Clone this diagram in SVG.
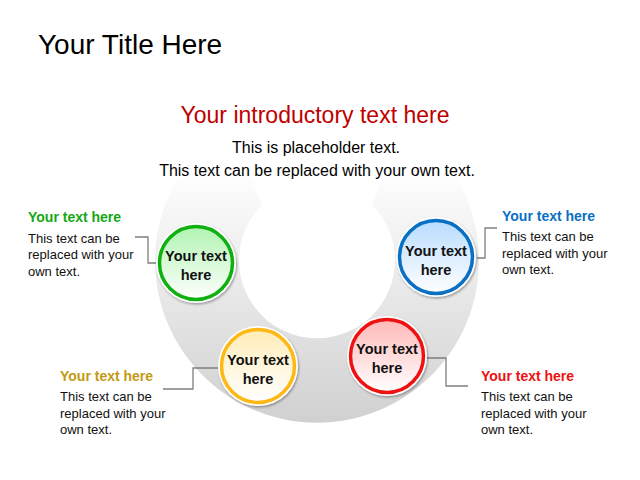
<svg xmlns="http://www.w3.org/2000/svg" width="640" height="480" viewBox="0 0 640 480">
<defs>
<linearGradient id="ringGrad" gradientUnits="userSpaceOnUse" x1="0" y1="170" x2="0" y2="423">
<stop offset="0" stop-color="#ffffff"/>
<stop offset="0.15" stop-color="#f7f7f7"/>
<stop offset="0.4" stop-color="#ececec"/>
<stop offset="1" stop-color="#d0d0d0"/>
</linearGradient>
<linearGradient id="gGreen" x1="0" y1="0" x2="0" y2="1"><stop offset="0" stop-color="#b0f4b0"/><stop offset="1" stop-color="#ffffff"/></linearGradient>
<linearGradient id="gBlue" x1="0" y1="0" x2="0" y2="1"><stop offset="0" stop-color="#b8dcff"/><stop offset="1" stop-color="#ffffff"/></linearGradient>
<linearGradient id="gYellow" x1="0" y1="0" x2="0" y2="1"><stop offset="0" stop-color="#ffecb8"/><stop offset="1" stop-color="#ffffff"/></linearGradient>
<linearGradient id="gRed" x1="0" y1="0" x2="0" y2="1"><stop offset="0" stop-color="#ffb8b8"/><stop offset="1" stop-color="#ffffff"/></linearGradient>
<filter id="sh" x="-20%" y="-20%" width="140%" height="140%">
<feDropShadow dx="1" dy="1.5" stdDeviation="1.2" flood-color="#000000" flood-opacity="0.35"/>
</filter>
</defs>
<style>
text{font-family:"Liberation Sans",Arial,sans-serif}
.title{font-size:28px;fill:#000}
.intro{font-size:23px;fill:#c00000;text-anchor:middle}
.sub{font-size:16px;fill:#000;text-anchor:middle}
.head{font-size:14px;font-weight:bold}
.body{font-size:13px;fill:#111}
.ctext{font-size:14.5px;font-weight:bold;fill:#111;text-anchor:middle}
.rim{fill:#ffffff;filter:url(#sh)}
.ring{stroke-width:3.5}
.conn{fill:none;stroke:#7f7f7f;stroke-width:1.3}
</style>
<rect width="640" height="480" fill="#ffffff"/>
<path id="arc" d="M230,124 A162,162 0 1 0 404,124 L372,205 A78,78 0 1 1 262,205 Z" fill="url(#ringGrad)"/>
<text class="title" x="38" y="54">Your Title Here</text>
<text class="intro" x="315" y="123">Your introductory text here</text>
<text class="sub" x="316" y="153">This is placeholder text.</text>
<text class="sub" x="317" y="176">This text can be replaced with your own text.</text>
<g id="connectors">
<path class="conn" d="M135,237 H148 V263 H157"/>
<path class="conn" d="M477,258 H485 V228 H497"/>
<path class="conn" d="M163,389 H193 V368 H218"/>
<path class="conn" d="M427,358 H446 V386 H468"/>
</g>
<g id="node-green">
<circle class="rim" cx="196" cy="263" r="40"/>
<circle class="ring" cx="196" cy="263" r="36.5" fill="url(#gGreen)" stroke="#10b010"/>
<text class="ctext" x="196" y="261">Your text</text>
<text class="ctext" x="196" y="280">here</text>
</g>
<g id="node-blue">
<circle class="rim" cx="436" cy="257" r="40"/>
<circle class="ring" cx="436" cy="257" r="36.5" fill="url(#gBlue)" stroke="#0a70c4"/>
<text class="ctext" x="436" y="256">Your text</text>
<text class="ctext" x="436" y="275">here</text>
</g>
<g id="node-yellow">
<circle class="rim" cx="258" cy="366" r="40"/>
<circle class="ring" cx="258" cy="366" r="36.5" fill="url(#gYellow)" stroke="#fdb813"/>
<text class="ctext" x="258" y="365">Your text</text>
<text class="ctext" x="258" y="384">here</text>
</g>
<g id="node-red">
<circle class="rim" cx="387" cy="356" r="40"/>
<circle class="ring" cx="387" cy="356" r="36.5" fill="url(#gRed)" stroke="#ee1111"/>
<text class="ctext" x="387" y="354">Your text</text>
<text class="ctext" x="387" y="373">here</text>
</g>
<g id="label-green">
<text class="head" x="28" y="222" fill="#13a813">Your text here</text>
<text class="body" x="28" y="243">This text can be</text>
<text class="body" x="28" y="259">replaced with your</text>
<text class="body" x="28" y="276">own text.</text>
</g>
<g id="label-blue">
<text class="head" x="502" y="221" fill="#0a70c4">Your text here</text>
<text class="body" x="502" y="241">This text can be</text>
<text class="body" x="502" y="258">replaced with your</text>
<text class="body" x="502" y="274">own text.</text>
</g>
<g id="label-yellow">
<text class="head" x="60" y="381" fill="#c39a12">Your text here</text>
<text class="body" x="60" y="401">This text can be</text>
<text class="body" x="60" y="418">replaced with your</text>
<text class="body" x="60" y="434">own text.</text>
</g>
<g id="label-red">
<text class="head" x="481" y="381" fill="#ee1111">Your text here</text>
<text class="body" x="481" y="401">This text can be</text>
<text class="body" x="481" y="418">replaced with your</text>
<text class="body" x="481" y="434">own text.</text>
</g>
</svg>
